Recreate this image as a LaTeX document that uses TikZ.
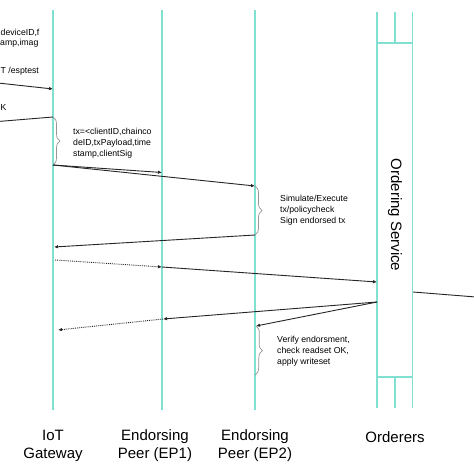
\documentclass[tikz,border=0pt]{standalone}
\usepackage{fontspec}
\setmainfont{Liberation Sans}
\usetikzlibrary{arrows.meta,decorations.pathreplacing}
\definecolor{life}{RGB}{130,224,208}
\definecolor{brc}{RGB}{150,150,150}
\begin{document}
\begin{tikzpicture}[x=1pt,y=-1pt,
  lifeline/.style={draw=life,line width=1.4pt},
  msg/.style={draw=black!85,line width=0.9pt,-{Latex[length=4pt,width=3.5pt]}},
  dmsg/.style={msg,densely dotted},
  plain/.style={draw=black!85,line width=0.9pt},
  bracket/.style={draw=brc,line width=0.7pt,decorate,decoration={brace,amplitude=7pt}},
  small/.style={font=\fontsize{8.7}{11}\selectfont,inner sep=0pt,align=left},
  label/.style={font=\fontsize{15}{18}\selectfont,inner sep=0pt,align=center}]
\useasboundingbox (0,0) rectangle (474,474);
\clip (0,0) rectangle (474,474);
\fill[white] (0,0) rectangle (474,474);

% lifelines
\coordinate (gT) at (53,10);  \coordinate (gB) at (53,410);
\coordinate (e1T) at (162,10); \coordinate (e1B) at (162,410);
\coordinate (e2T) at (255,10); \coordinate (e2B) at (255,410);
\draw[lifeline] (gT) -- (gB);
\draw[lifeline] (e1T) -- (e1B);
\draw[lifeline] (e2T) -- (e2B);

% orderers
\coordinate (oLT) at (377,12); \coordinate (oMT) at (395,12); \coordinate (oRT) at (412.5,12);
\coordinate (oLB) at (377,408); \coordinate (oMB) at (395,408); \coordinate (oRB) at (412.5,408);
\draw[lifeline] (oLT) -- (oLB);
\draw[lifeline] (oRT) -- (oRB);
\draw[lifeline] (oMT) -- (395,43);
\draw[lifeline] (395,377) -- (oMB);
\node[lifeline,fill=white,minimum width=35.5pt,minimum height=334pt,inner sep=0pt] (os) at (394.75,210) {};
\node[label,rotate=-90] (ost) at (395,215) {Ordering Service};

% top-left texts
\node[small,anchor=west] (t1) at (0.5,32.5) {deviceID,f};
\node[small,anchor=west] (t1b) at (0,43.5) {amp,imag};
\node[small,anchor=west] (t2) at (0.5,71.5) {T /esptest};
\node[small,anchor=west] (t3) at (0.5,108) {K};

\coordinate (inL) at (-2,83);
\coordinate (g1) at (53,89);
\draw[msg] (inL) -- (g1);
\coordinate (g2) at (53,117);
\coordinate (outL) at (-2,121.5);
\draw[plain] (g2) -- (outL);

% tx brace
\coordinate (g3) at (53,165);
\draw[bracket] (g2) -- (g3);
\node[small,anchor=west] (txt) at (73,143) {tx=<clientID,chainco\\deID,txPayload,time\\stamp,clientSig};

\coordinate (e1a) at (162,172.5);
\coordinate (e2a) at (255,186);
\draw[msg] (g3) -- (e1a);
\draw[msg] (g3) -- (e2a);

% simulate brace
\coordinate (e2b) at (255,235);
\draw[bracket] (e2a) -- (e2b);
\node[small,anchor=west] (sim) at (280,210) {Simulate/Execute\\tx/policycheck\\Sign endorsed tx};

\coordinate (g4) at (54,247);
\draw[msg] (e2b) -- (g4);

\coordinate (g5) at (55,260);
\coordinate (e1b) at (162,267);
\draw[dmsg] (g5) -- (e1b);
\coordinate (oa) at (377,282);
\draw[msg] (e1b) -- (oa);

\coordinate (ob) at (413,292);
\coordinate (outR) at (476,297);
\draw[plain] (ob) -- (outR);

\coordinate (oc) at (377,302);
\coordinate (e1c) at (163,319);
\coordinate (e2c) at (256,326);
\draw[msg] (oc) -- (e1c);
\draw[msg] (oc) -- (e2c);
\coordinate (g6) at (58,330);
\draw[dmsg] (e1c) -- (g6);

% verify brace
\coordinate (e2d) at (255,375);
\draw[bracket] (e2c) -- (e2d);
\node[small,anchor=west] (ver) at (277,351.5) {Verify endorsment,\\check readset OK,\\apply writeset};

% bottom labels
\node[label] (lg) at (53,446) {IoT\\Gateway};
\node[label] (l1) at (155,446) {Endorsing\\Peer (EP1)};
\node[label] (l2) at (255,446) {Endorsing\\Peer (EP2)};
\node[label] (lo) at (395,437) {Orderers};
\end{tikzpicture}
\end{document}
